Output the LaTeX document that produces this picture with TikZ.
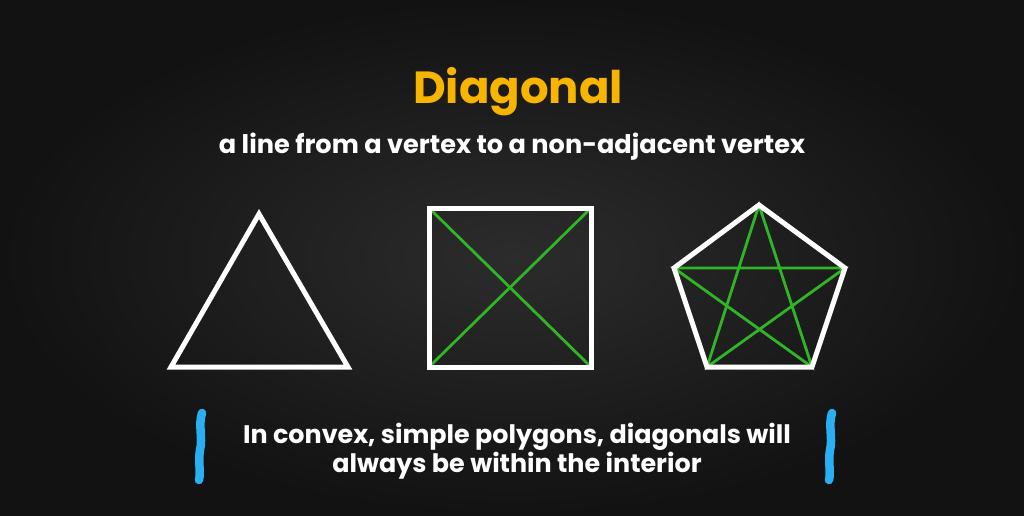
\documentclass[tikz,border=0pt]{standalone}
\usepackage{fontspec}
\setmainfont{Poppins}
\definecolor{bgdark}{HTML}{121212}
\definecolor{bglight}{HTML}{2C2C2C}
\definecolor{titlecol}{HTML}{F7B500}
\definecolor{diaggreen}{HTML}{2FB526}
\definecolor{chalkblue}{HTML}{2AB0F2}
\tikzset{
  shapeline/.style={draw=white, line width=5pt, line join=miter},
  diagline/.style={draw=diaggreen, line width=2.8pt},
  chalk/.style={draw=chalkblue, line width=8.5pt, line cap=round, line join=round},
  txt/.style={text=white, inner sep=0pt, align=center}
}
\begin{document}
\begin{tikzpicture}[x=1pt,y=-1pt]
\useasboundingbox (0,0) rectangle (1024,515);
\fill[bgdark] (0,0) rectangle (1024,515);
\shade[inner color=bglight, outer color=bgdark] (0,0) rectangle (1024,515);
% texts
\node[txt, text=titlecol, font=\fontsize{45}{52}\selectfont\bfseries] (title) at (518,92) {Diagonal};
\node[txt, font=\fontsize{25.6}{30}\selectfont\bfseries] (sub) at (512,147) {a line from a vertex to a non-adjacent vertex};
\node[txt, font=\fontsize{25.4}{29.5}\selectfont\bfseries] (bottom) at (517,451) {In convex, simple polygons, diagonals will\\always be within the interior};
% triangle
\coordinate (t1) at (259,214);
\coordinate (t2) at (171,367);
\coordinate (t3) at (348,367);
\draw[shapeline] (t1) -- (t2) -- (t3) -- cycle;
% square
\coordinate (s1) at (429,208);
\coordinate (s2) at (591,208);
\coordinate (s3) at (591,367);
\coordinate (s4) at (429,367);
\draw[diagline] (s1) -- (s3);
\draw[diagline] (s2) -- (s4);
\draw[shapeline] (s1) -- (s2) -- (s3) -- (s4) -- cycle;
% pentagon
\coordinate (p1) at (759,205);
\coordinate (p2) at (845,268);
\coordinate (p3) at (812,367);
\coordinate (p4) at (707,367);
\coordinate (p5) at (674,268);
\draw[diagline] (p1) -- (p3) -- (p5) -- (p2) -- (p4) -- cycle;
\draw[shapeline] (p1) -- (p2) -- (p3) -- (p4) -- (p5) -- cycle;
% chalk marks
\draw[chalk] (202,413) .. controls (198,425) and (203,438) .. (200,450) .. controls (198,462) and (201,472) .. (199,480);
\draw[chalk] (832,413) .. controls (828,425) and (833,438) .. (830,450) .. controls (828,462) and (831,472) .. (829,480);
\end{tikzpicture}
\end{document}
